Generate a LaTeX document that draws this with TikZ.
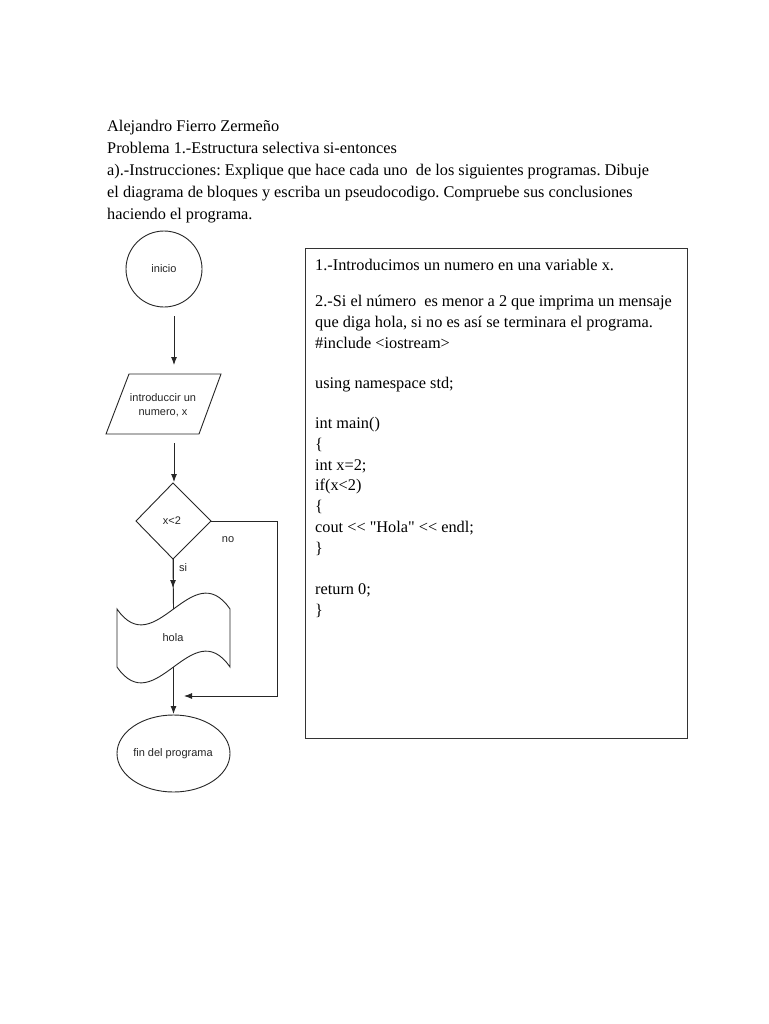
\documentclass[tikz,border=0pt]{standalone}
\usepackage{fontspec}
\setmainfont{Liberation Serif}[Ligatures=TeXOff]
\newfontfamily\flowfont{Liberation Sans}
\usetikzlibrary{arrows.meta}
\frenchspacing

\begin{document}
\begin{tikzpicture}[x=1pt,y=-1pt,
  txt/.style={anchor=base west,inner sep=0pt,font=\fontsize{16.3}{19}\selectfont},
  lbl/.style={inner sep=0pt,align=center,text=black!85,
    font=\flowfont\fontsize{11}{14.5}\selectfont},
  flow/.style={draw=black!85,line width=0.9pt},
  arr/.style={flow,-{Latex[length=8pt,width=6pt]}},
  codebox/.style={draw=black!80,line width=1pt}]
  \useasboundingbox[fill=white] (0,0) rectangle (768,1024);

  % heading
  \node[txt] (author) at (107,132) {Alejandro Fierro Zermeño};
  \node[txt] (prob) at (107,154) {Problema 1.-Estructura selectiva si-entonces};
  \node[txt] (instr1) at (107,176) {a).-Instrucciones: Explique que hace cada uno\ \ de los siguientes programas. Dibuje};
  \node[txt] (instr2) at (107,198) {el diagrama de bloques y escriba un pseudocodigo. Compruebe sus conclusiones};
  \node[txt] (instr3) at (107,220) {haciendo el programa.};

  % flow chart corners
  \coordinate (pa) at (129,374);
  \coordinate (pb) at (221,374);
  \coordinate (pc) at (199,434);
  \coordinate (pd) at (106,434);

  \coordinate (dt) at (173,483);
  \coordinate (dr) at (211,521);
  \coordinate (db) at (173,559);
  \coordinate (dl) at (136,521);

  \coordinate (wtl) at (117,609);
  \coordinate (wtm) at (173.5,609);
  \coordinate (wtr) at (230,609);
  \coordinate (wbl) at (117,667);
  \coordinate (wbm) at (173.5,667);
  \coordinate (wbr) at (230,667);

  \coordinate (nocorner) at (277,521);
  \coordinate (nodown) at (277,696);
  \coordinate (noend) at (184,696);

  \draw[flow] (164,269) circle (38);
  \draw[flow] (pa) -- (pb) -- (pc) -- (pd) -- cycle;
  \draw[flow] (dt) -- (dr) -- (db) -- (dl) -- cycle;
  \draw[flow] (wtl) .. controls (155,664) and (192,554) .. (wtr) -- (wbr)
    .. controls (192,612) and (155,722) .. (wbl) -- cycle;
  \draw[flow] (173.5,753.5) ellipse [x radius=56.5, y radius=38.5];

  \node[lbl] (start) at (164,269) {inicio};
  \node[lbl] (input) at (163,405) {introduccir un\\numero, x};
  \node[lbl] (cond) at (172,521) {x<2};
  \node[lbl] (no) at (228,540) {no};
  \node[lbl] (si) at (183,568) {si};
  \node[lbl] (hola) at (173,638) {hola};
  \node[lbl] (fin) at (173,754) {fin del programa};

  % connectors
  \coordinate (a1s) at (174,316);
  \coordinate (a1e) at (174,365);
  \coordinate (a2s) at (174,443);
  \coordinate (a2e) at (174,482);
  \coordinate (a3e) at (173,588);
  \coordinate (a4e) at (173.5,714);

  \draw[arr] (a1s) -- (a1e);
  \draw[arr] (a2s) -- (a2e);
  \draw[flow] (db) -- (wtm);
  \draw[arr] (db) -- (a3e);
  \draw[arr] (wbm) -- (a4e);
  \draw[arr] (dr) -- (nocorner) -- (nodown) -- (noend);

  % program box
  \draw[codebox] (305,248) rectangle (687,738);
  \node[txt] (c1) at (315,270) {1.-Introducimos un numero en una variable x.};
  \node[txt] (c2) at (315,306) {2.-Si el número\ \ es menor a 2 que imprima un mensaje};
  \node[txt] (c3) at (315,327) {que diga hola, si no es así se terminara el programa.};
  \node[txt] (c4) at (315,348) {\#include <iostream>};
  \node[txt] (c5) at (315,388) {using namespace std;};
  \node[txt] (c6) at (315,428) {int main()};
  \node[txt] (c7) at (315,449) {\{};
  \node[txt] (c8) at (315,470) {int x=2;};
  \node[txt] (c9) at (315,490) {if(x<2)};
  \node[txt] (c10) at (315,511) {\{};
  \node[txt] (c11) at (315,532) {cout <{}< "Hola" <{}< endl;};
  \node[txt] (c12) at (315,553) {\}};
  \node[txt] (c13) at (315,594) {return 0;};
  \node[txt] (c14) at (315,615) {\}};
\end{tikzpicture}
\end{document}
